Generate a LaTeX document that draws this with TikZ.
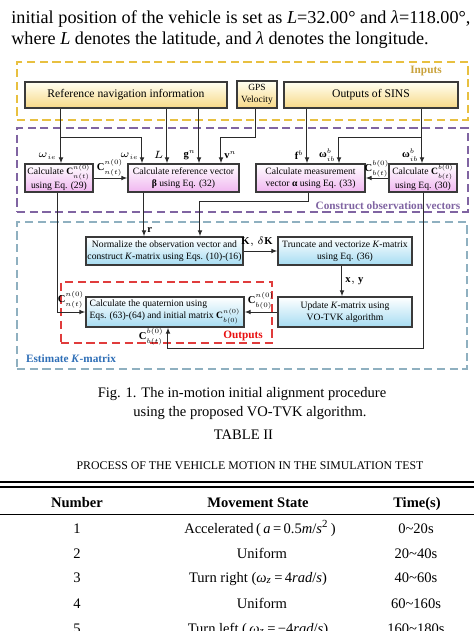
\RequirePackage{fix-cm}
\documentclass[tikz,border=0pt]{standalone}
\usepackage{fontspec}
\setmainfont{Liberation Serif}
\usetikzlibrary{arrows.meta,calc}
\DeclareMathSizes{5.3}{5.3}{3.4}{2.7}
\DeclareMathSizes{5.8}{5.8}{3.7}{2.9}
\DeclareMathSizes{8}{8}{6}{5}
\DeclareMathSizes{10}{10}{7}{5}
\definecolor{inC}{HTML}{E8C040}
\definecolor{inLab}{HTML}{C9A23C}
\definecolor{puC}{HTML}{8064A2}
\definecolor{esC}{HTML}{8FB0C0}
\definecolor{esLab}{HTML}{2E6EB6}
\definecolor{ouC}{HTML}{E03C3C}
\definecolor{ouLab}{HTML}{E81010}
\definecolor{yTop}{HTML}{FFFFF2}
\definecolor{yBot}{HTML}{F7D886}
\definecolor{pBot}{HTML}{F0B6F0}
\definecolor{bBot}{HTML}{A6DCF2}
\definecolor{boxc}{HTML}{3A3A3A}
\definecolor{linec}{HTML}{2A2A2A}
\begin{document}
\begin{tikzpicture}[x=0.55pt,y=-0.55pt,
  every node/.style={inner sep=0pt},
  wh/.style 2 args={minimum width=#1*0.55pt, minimum height=#2*0.55pt},
  box/.style={draw=boxc, line width=0.75pt, align=center, font=\fontsize{5.3}{6.6}\selectfont},
  ybox/.style={box, top color=yTop, bottom color=yBot, font=\fontsize{6.4}{7.5}\selectfont},
  pbox/.style={box, top color=white, bottom color=pBot},
  bbox/.style={box, top color=white, bottom color=bBot},
  grp/.style={line width=0.85pt, dash pattern=on 4.5pt off 2.5pt},
  ln/.style={draw=linec, line width=0.55pt},
  arr/.style={ln, -{Latex[length=3.3pt,width=2.6pt]}},
  lab/.style={font=\fontsize{5.8}{6}\selectfont},
  glab/.style={font=\fontsize{6.2}{7}\selectfont\bfseries},
  txt/.style={font=\fontsize{10}{12}\selectfont, anchor=base west},
  captxt/.style={font=\fontsize{8}{10}\selectfont, anchor=base},
  tabtxt/.style={font=\fontsize{8}{10}\selectfont, anchor=base},
]
\useasboundingbox (0,0) rectangle (474,631);
\clip (0,0) rectangle (474,631);

% top text
\node[txt] (l1) at (11,23) {\makebox[252.5pt][s]{initial position of the vehicle is set as \textit{L}=32.00° and \textit{λ}=118.00°,}};
\node[txt] (l2) at (11,44) {where \textit{L} denotes the latitude, and \textit{λ} denotes the longitude.};

% groups
\node[grp, draw=inC, wh={451}{58}] (inputs) at (242.5,91) {};
\node[grp, draw=puC, wh={451}{84}] (construct) at (242.5,170) {};
\node[grp, draw=esC, wh={450}{147}] (estimate) at (242,295.5) {};
\node[grp, draw=ouC, wh={211}{61}] (outputs) at (166.5,312.5) {};

\node[glab, text=inLab] (inlab) at (426,71) {Inputs};
\node[glab, text=puC] (colab) at (388,206) {Construct observation vectors};
\node[glab, text=esLab] (eslab) at (71,359) {Estimate \textit{K}-matrix};
\node[glab, text=ouLab] (oulab) at (243,336) {Outputs};

% boxes
\node[ybox, wh={202}{26}] (refnav) at (126,95) {Reference navigation information};
\node[ybox, wh={40}{27}, font=\fontsize{5.2}{6.2}\selectfont] (gps) at (257,94.5) {GPS\\Velocity};
\node[ybox, wh={174}{26}] (sins) at (371,95) {Outputs of SINS};

\node[pbox, wh={68}{28}] (c29) at (59,178) {Calculate $\mathbf{C}^{n(0)}_{n(t)}$\\using Eq. (29)};
\node[pbox, wh={111}{28}] (beta) at (183.5,178) {Calculate reference vector\\\textbf{β} using Eq. (32)};
\node[pbox, wh={109}{28}] (alpha) at (310.5,178) {Calculate measurement\\vector \textbf{α} using Eq. (33)};
\node[pbox, wh={68}{28}] (c30) at (423,178) {Calculate $\mathbf{C}^{b(0)}_{b(t)}$\\using Eq. (30)};

\node[bbox, wh={157}{28}] (norm) at (164.5,251) {Normalize the observation vector and\\construct \textit{K}-matrix using Eqs. (10)-(16)};
\node[bbox, wh={134}{28}] (trunc) at (345,251) {Truncate and vectorize \textit{K}-matrix\\using Eq. (36)};
\node[bbox, wh={134}{30}] (update) at (345,312) {Update \textit{K}-matrix using\\VO-TVK algorithm};
\node[bbox, wh={158}{30}, align=left] (quat) at (165,312) {Calculate the quaternion using\\Eqs. (63)-(64) and initial matrix $\mathbf{C}^{n(0)}_{b(0)}$};

% helper coordinates
\coordinate (xA) at (61,0);
\coordinate (xB) at (142,0);
\coordinate (xL) at (167,0);
\coordinate (xG) at (199,0);
\coordinate (xV) at (221,0);
\coordinate (xGPS) at (256,0);
\coordinate (xF) at (307,0);
\coordinate (xW1) at (339,0);
\coordinate (xW2) at (422,0);
\coordinate (yI) at (0,137.5);
\coordinate (xR) at (144,0);
\coordinate (xAl) at (309,0);
\coordinate (xN) at (200,0);
\coordinate (yAl) at (0,201);
\coordinate (xC) at (58,0);
\coordinate (xT) at (342,0);
\coordinate (xLoop) at (424,0);
\coordinate (yLoop) at (0,348);
\coordinate (xQ) at (168,0);

% connectors
\draw[arr] (refnav.south -| xA) -- (c29.north -| xA);
\draw[arr] (xA |- yI) -| (beta.north -| xB);
\draw[arr] (refnav.south -| xL) -- (beta.north -| xL);
\draw[arr] (refnav.south -| xG) -- (beta.north -| xG);
\draw[arr] (gps.south -| xGPS) |- (xV |- yI) -- (beta.north -| xV);
\draw[arr] (sins.south -| xF) -- (alpha.north -| xF);
\draw[arr] (sins.south -| xW2) -- (c30.north -| xW2);
\draw[arr] (xW2 |- yI) -| (alpha.north -| xW1);
\draw[arr] (c29.east) -- (beta.west);
\draw[arr] (c30.west) -- (alpha.east);
\draw[arr] (beta.south -| xR) -- (norm.north -| xR);
\draw[arr] (alpha.south -| xAl) |- (xN |- yAl) -- (norm.north -| xN);
\draw[arr] (c29.south -| xC) |- (quat.west);
\draw[arr] (norm.east) -- (trunc.west);
\draw[arr] (trunc.south -| xT) -- (update.north -| xT);
\draw[arr] (update.west) -- (quat.east);
\draw[arr] (c30.south -| xLoop) |- (xQ |- yLoop) -- (quat.south -| xQ);

% connector labels
\node[lab, anchor=east] (lw1) at (57,156) {$\omega_{ie}$};
\node[lab, anchor=east] (lw2) at (139,156) {$\omega_{ie}$};
\node[lab, anchor=east] (lL) at (164,155) {$L$};
\node[lab, anchor=east] (lg) at (196,155) {$\mathbf{g}^n$};
\node[lab, anchor=west] (lv) at (224,155) {$\mathbf{v}^n$};
\node[lab, anchor=east] (lf) at (304,155) {$\mathbf{f}^b$};
\node[lab, anchor=east] (lwb1) at (336,155) {$\textbf{ω}^b_{ib}$};
\node[lab, anchor=east] (lwb2) at (419,155) {$\textbf{ω}^b_{ib}$};
\node[lab] (lc1) at (110,168) {$\mathbf{C}^{n(0)}_{n(t)}$};
\node[lab] (lc2) at (377,169) {$\mathbf{C}^{b(0)}_{b(t)}$};
\node[lab, anchor=west] (lr) at (147,230) {$\mathbf{r}$};
\node[lab] (lk) at (257,242) {$\mathbf{K},\delta\mathbf{K}$};
\node[lab, anchor=west] (lxy) at (345,281) {$\mathbf{x},\mathbf{y}$};
\node[lab] (lc3) at (261,301) {$\mathbf{C}^{n(0)}_{b(0)}$};
\node[lab] (lc4) at (71,300) {$\mathbf{C}^{n(0)}_{n(t)}$};
\node[lab, anchor=east] (lc5) at (164,337) {$\mathbf{C}^{b(0)}_{b(t)}$};

% caption
\node[captxt] (cap1) at (242,397) {Fig. 1. The in-motion initial alignment procedure};
\node[captxt] (cap2) at (250,416) {using the proposed VO-TVK algorithm.};
\node[captxt] (tab1) at (243.5,439) {TABLE II};
\node[captxt, font=\fontsize{6.5}{8}\selectfont] (tab2) at (250,469) {PROCESS OF THE VEHICLE MOTION IN THE SIMULATION TEST};

% table
\draw[line width=1.4pt] (0,482) -- (474,482);
\draw[line width=0.9pt] (0,487) -- (474,487);
\draw[line width=0.5pt] (0,514) -- (474,514);
\node[tabtxt, font=\fontsize{8}{10}\selectfont\bfseries] (h1) at (77,507) {Number};
\node[tabtxt, font=\fontsize{8}{10}\selectfont\bfseries] (h2) at (258,507) {Movement State};
\node[tabtxt, font=\fontsize{8}{10}\selectfont\bfseries] (h3) at (417,507) {Time(s)};
\node[tabtxt] (n1) at (77,533) {1};
\node[tabtxt] (m1) at (260,533) {Accelerated\,(\,\textit{a}\,=\,0.5\textit{m}/\textit{s}\textsuperscript{2}\,)};
\node[tabtxt] (t1) at (416,533) {0\textasciitilde 20s};
\node[tabtxt] (n2) at (77,558) {2};
\node[tabtxt] (m2) at (262,558) {Uniform};
\node[tabtxt] (t2) at (416,558) {20\textasciitilde 40s};
\node[tabtxt] (n3) at (77,582) {3};
\node[tabtxt] (m3) at (258,582) {Turn right (\textit{ω}\textsubscript{\textit{z}}\,=\,4\textit{rad}/\textit{s})};
\node[tabtxt] (t3) at (416,582) {40\textasciitilde 60s};
\node[tabtxt] (n4) at (77,608) {4};
\node[tabtxt] (m4) at (262,608) {Uniform};
\node[tabtxt] (t4) at (416,608) {60\textasciitilde 160s};
\node[tabtxt] (n5) at (77,633) {5};
\node[tabtxt] (m5) at (258,633) {Turn left (\,\textit{ω}\textsubscript{\textit{z}}\,=\,−4\textit{rad}/\textit{s})};
\node[tabtxt] (t5) at (416,633) {160\textasciitilde 180s};
\end{tikzpicture}
\end{document}
